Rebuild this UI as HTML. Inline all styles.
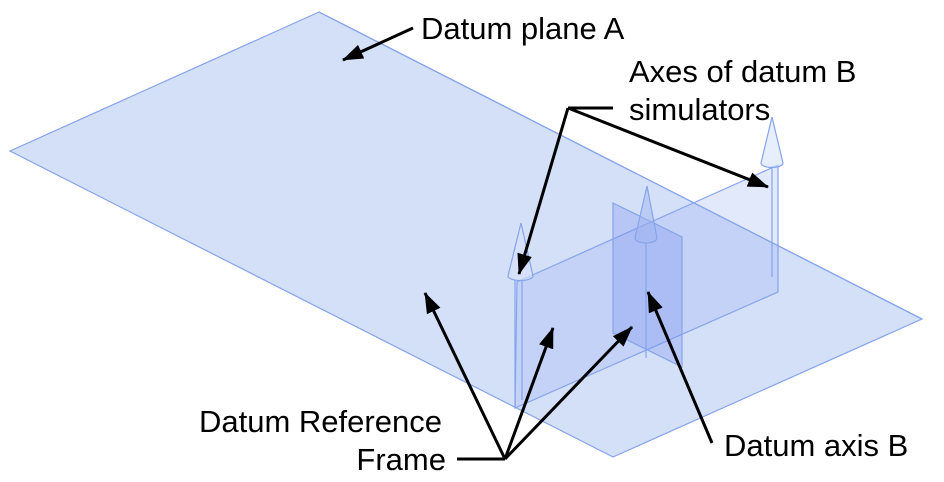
<!DOCTYPE html>
<html>
<head>
<meta charset="utf-8">
<style>
  html, body { margin:0; padding:0; background:#ffffff; }
  svg { display:block; }
  text { font-family: "Liberation Sans", Arial, sans-serif; font-size:31px; fill:#000; }
</style>
</head>
<body>
<svg width="944" height="482" viewBox="0 0 944 482" xmlns="http://www.w3.org/2000/svg">
  <defs>
    <marker id="ah" markerUnits="userSpaceOnUse" markerWidth="22" markerHeight="15" refX="20" refY="7.5" orient="auto">
      <path d="M0,0 L21,7.5 L0,15 z" fill="#000"/>
    </marker>
  </defs>

  <!-- Datum plane A -->
  <polygon points="10,151 319,12 922,319 613,457" fill="#d4dff8" stroke="#86a4ea" stroke-width="1.2"/>

  <!-- Vertical plane B -->
  <polygon points="517,282 778,165 778,292 515,408" fill="rgba(150,175,240,0.28)" stroke="#86a4ea" stroke-width="1.2"/>

  <!-- Middle perpendicular plane -->
  <polygon points="613,203 682,237 682,367 613,333" fill="rgba(120,145,238,0.32)" stroke="#86a4ea" stroke-width="1.2"/>

  <!-- plane A top-right edge re-stroked over planes -->
  <line x1="319" y1="12" x2="922" y2="319" stroke="#86a4ea" stroke-width="1.2"/>

  <!-- Left pin -->
  <line x1="515" y1="280" x2="515" y2="408" stroke="#86a4ea" stroke-width="1.2"/>
  <line x1="522" y1="280" x2="522" y2="400" stroke="#86a4ea" stroke-width="1.2"/>
  <path d="M508,276 L521,223 L533,276 A12.5,4.5 0 0 1 508,276 Z" fill="rgba(215,226,250,0.6)" stroke="#86a4ea" stroke-width="1.2"/>

  <!-- Middle pin (datum axis B) -->
  <line x1="646" y1="243" x2="646" y2="358" stroke="#86a4ea" stroke-width="1.2"/>
  <path d="M635,238 L647,186 L657,238 A11,5 0 0 1 635,238 Z" fill="rgba(160,180,240,0.45)" stroke="#86a4ea" stroke-width="1.2"/>

  <!-- Right pin -->
  <line x1="772" y1="166" x2="772" y2="277" stroke="#86a4ea" stroke-width="1.2"/>
  <path d="M761,163 L772,117 L783,163 A11,4.5 0 0 1 761,163 Z" fill="rgba(215,226,250,0.6)" stroke="#86a4ea" stroke-width="1.2"/>

  <!-- Arrows -->
  <g stroke="#000" stroke-width="3" fill="none">
    <line x1="413" y1="28" x2="343" y2="60" marker-end="url(#ah)"/>

    <polyline points="613,108 568,108"/>
    <line x1="568" y1="108" x2="519" y2="274" marker-end="url(#ah)"/>
    <line x1="568" y1="108" x2="768" y2="187" marker-end="url(#ah)"/>

    <polyline points="457,459 505,459"/>
    <line x1="505" y1="459" x2="425" y2="293" marker-end="url(#ah)"/>
    <line x1="505" y1="459" x2="553" y2="328" marker-end="url(#ah)"/>
    <line x1="505" y1="459" x2="632" y2="327" marker-end="url(#ah)"/>

    <line x1="712" y1="443" x2="648" y2="292" marker-end="url(#ah)"/>
  </g>

  <!-- Labels -->
  <text x="421" y="39">Datum plane A</text>
  <text x="629" y="82">Axes of datum B</text>
  <text x="629" y="120">simulators</text>
  <text x="199" y="432">Datum Reference</text>
  <text x="446" y="470" text-anchor="end">Frame</text>
  <text x="724" y="456">Datum axis B</text>
</svg>
</body>
</html>
